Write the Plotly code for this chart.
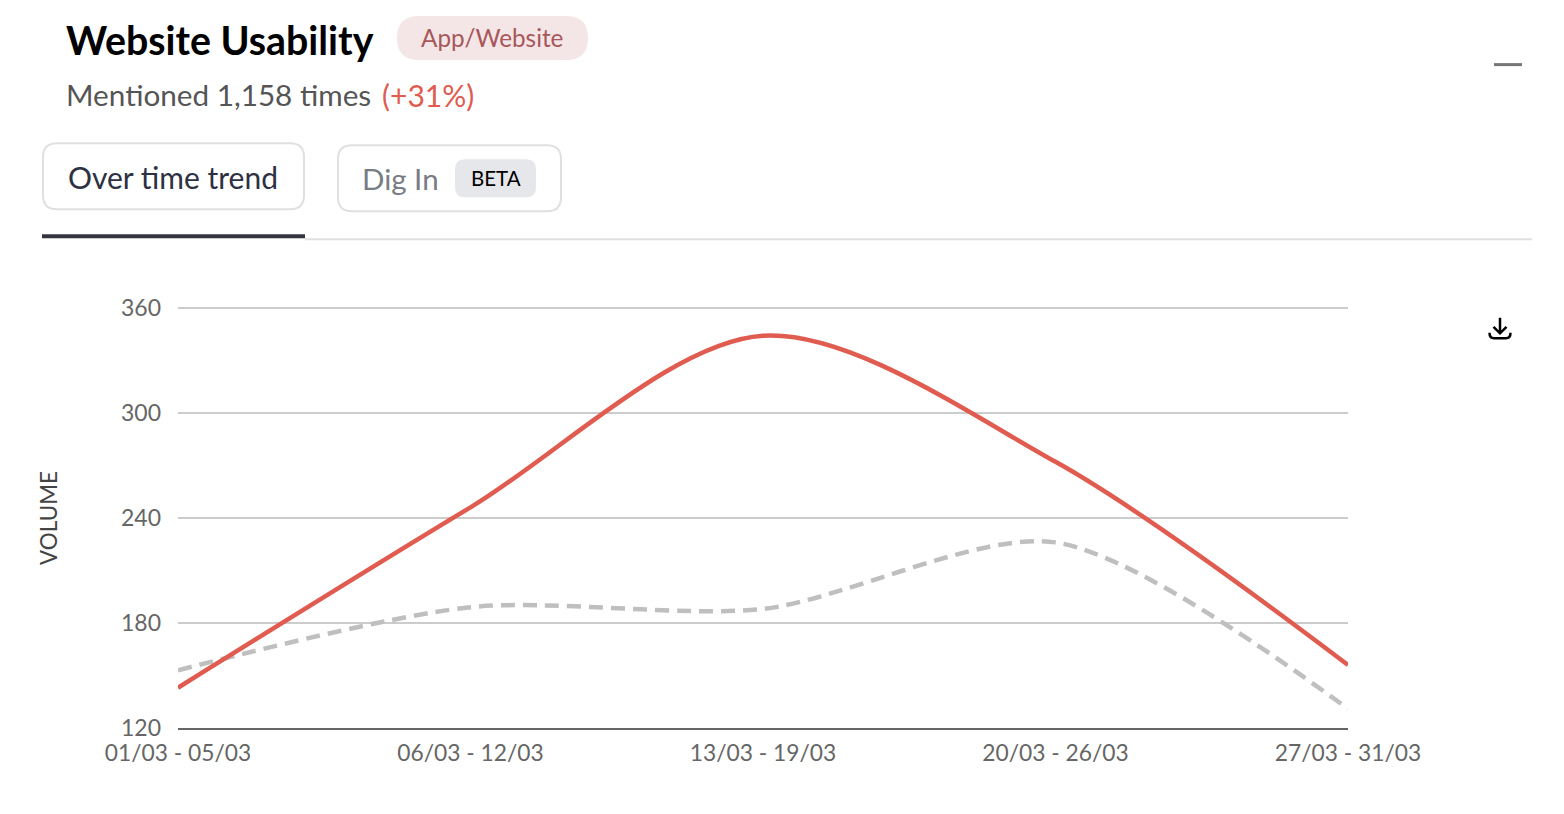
import plotly.graph_objects as go

# Values
periods = ['01/03 - 05/03', '06/03 - 12/03', '13/03 - 19/03', '20/03 - 26/03', '27/03 - 31/03']
current = [143, 246, 344, 272, 156]
previous = [153, 189, 188, 226, 131]
y_ticks = [120, 180, 240, 300, 360]

W, H = 1564, 814
# top of range sits one unit over the 360 line so plotly keeps that gridline
Y_MIN, Y_MAX = 120, 361
LEFT, RIGHT, TOP, BOTTOM = 178, 1348, 306.25, 728
FONT = 'Lato'


# paper coords from page pixels
def px(x):
    return (x - LEFT) / (RIGHT - LEFT)


def py(y):
    return (BOTTOM - y) / (BOTTOM - TOP)


def round_rect(x0, y0, x1, y1, r):
    return (f'M {px(x0 + r)} {py(y0)} L {px(x1 - r)} {py(y0)} Q {px(x1)} {py(y0)} {px(x1)} {py(y0 + r)} '
            f'L {px(x1)} {py(y1 - r)} Q {px(x1)} {py(y1)} {px(x1 - r)} {py(y1)} '
            f'L {px(x0 + r)} {py(y1)} Q {px(x0)} {py(y1)} {px(x0)} {py(y1 - r)} '
            f'L {px(x0)} {py(y0 + r)} Q {px(x0)} {py(y0)} {px(x0 + r)} {py(y0)} Z')


def box(x0, y0, x1, y1, r, fill='rgba(0,0,0,0)', line=None):
    return dict(type='path', xref='paper', yref='paper', path=round_rect(x0, y0, x1, y1, r), fillcolor=fill,
                line=dict(color=line or 'rgba(0,0,0,0)', width=2 if line else 0), layer='below')


def rule(x0, x1, y, color, width):
    return dict(type='line', xref='paper', yref='paper', x0=px(x0), x1=px(x1), y0=py(y), y1=py(y),
                line=dict(color=color, width=width))


def label(text, x, y, size, color, bold=False, angle=0, anchor='left'):
    return dict(text=f'<b>{text}</b>' if bold else text, x=px(x), y=py(y), xref='paper', yref='paper',
                xanchor=anchor, yanchor='middle', showarrow=False, textangle=angle,
                font=dict(family=FONT, size=size, color=color))


icon = (f'M {px(1500)} {py(318)} L {px(1500)} {py(333)} '
        f'M {px(1493.5)} {py(327)} L {px(1500)} {py(333.5)} L {px(1506.5)} {py(327)} '
        f'M {px(1489.5)} {py(333)} Q {px(1489.5)} {py(338.5)} {px(1494)} {py(338.5)} '
        f'L {px(1506)} {py(338.5)} Q {px(1510.5)} {py(338.5)} {px(1510.5)} {py(333)}')

fig = go.Figure()
fig.add_trace(go.Scatter(x=periods, y=previous, mode='lines',
                         line=dict(color='#BFBFBF', width=4.5, dash='14px,8px', shape='spline', smoothing=0.8)))
fig.add_trace(go.Scatter(x=periods, y=current, mode='lines',
                         line=dict(color='#E05B50', width=4.5, shape='spline', smoothing=0.9)))

fig.update_layout(
    width=W, height=H, showlegend=False, plot_bgcolor='white', paper_bgcolor='white',
    margin=dict(l=LEFT, r=W - RIGHT, t=TOP, b=H - BOTTOM),
    font=dict(family=FONT),
    shapes=[
        box(397, 16.5, 588, 60.5, 22, fill='#F4E6E6'),
        box(43, 143.5, 304, 209.5, 14, fill='white', line='#E0E0E0'),
        box(338, 145.5, 561, 211.5, 14, fill='white', line='#E0E0E0'),
        box(455, 159.5, 536, 197.5, 10, fill='#E6E7EB'),
        rule(305, 1532, 239.5, '#E0E0E0', 2),
        rule(42, 305, 236.5, '#33343F', 4),
        rule(1494, 1522, 65, '#777777', 3),
        dict(type='path', xref='paper', yref='paper', path=icon, line=dict(color='black', width=2.5)),
    ],
    annotations=[
        label('Website Usability', 63.5, 40, 39.3, 'black', bold=True),
        label('App/Website', 419, 38, 24.3, '#A8575B'),
        label('Mentioned 1,158 times', 64, 95, 29.7, '#555555'),
        label('(+31%)', 380, 95, 30, '#E05B50'),
        label('Over time trend', 66, 177, 30, '#2D3142'),
        label('Dig In', 360, 179, 29.5, '#777C85'),
        label('BETA', 468.5, 178, 20.5, 'black'),
        label('VOLUME', 49, 518, 22.4, '#444444', angle=-90, anchor='center'),
    ],
)
fig.update_xaxes(type='category', range=[0, 4], showgrid=False, zeroline=False, showline=True, linecolor='#666666',
                 linewidth=2, ticks='', ticklabelstandoff=4, tickfont=dict(family=FONT, size=22.8, color='#666666'))
fig.update_yaxes(range=[Y_MIN, Y_MAX], tickvals=y_ticks, showgrid=True, gridcolor='#CCCCCC', gridwidth=2, zeroline=False,
                 showline=False, ticks='', ticklabelstandoff=16, tickfont=dict(family=FONT, size=23, color='#666666'))

fig.write_html('out.html', config={'displayModeBar': False}, post_script="document.body.style.margin='0';")
